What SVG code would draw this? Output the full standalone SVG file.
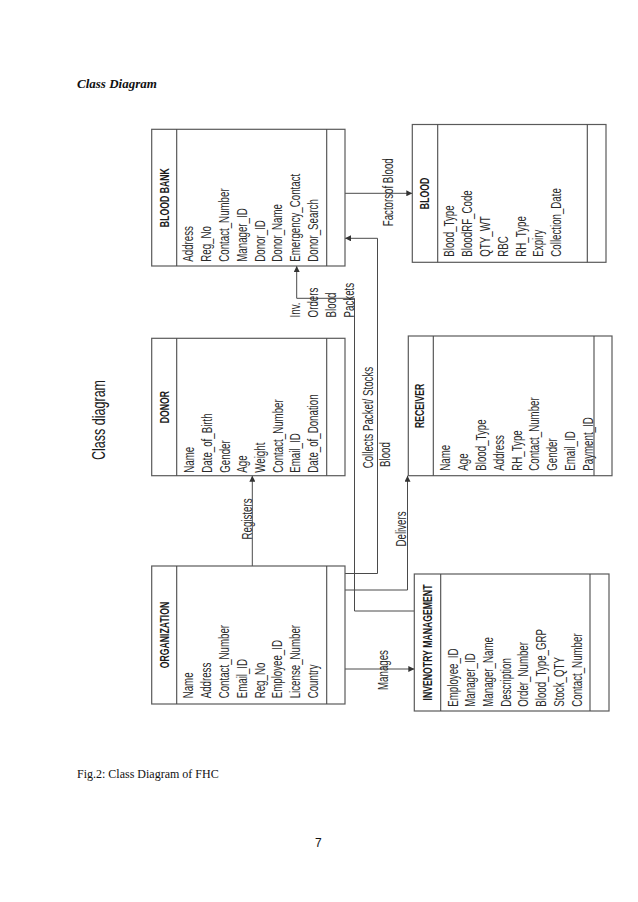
<svg xmlns="http://www.w3.org/2000/svg" width="638" height="902" viewBox="0 0 638 902">
<style>
.page{fill:#ffffff}
.box{fill:#ffffff;stroke:#5a5a5a;stroke-width:1.2}
.div{stroke:#4a4a4a;stroke-width:1.1}
.con{fill:none;stroke:#4a4a4a;stroke-width:1}
.t{font-family:"Liberation Sans",Arial,sans-serif;font-size:14.5px;fill:#2a2a2a}
.h{font-family:"Liberation Sans",Arial,sans-serif;font-size:13px;font-weight:bold;fill:#1a1a1a;text-anchor:middle}
.lbl{font-family:"Liberation Sans",Arial,sans-serif;font-size:14.5px;fill:#2a2a2a}
.big{font-family:"Liberation Sans",Arial,sans-serif;font-size:19px;fill:#1a1a1a}
.pg{font-family:"Liberation Sans",Arial,sans-serif;font-size:12px;fill:#111;text-anchor:middle}
.title{font-family:"Liberation Serif","Times New Roman",serif;font-size:13px;font-weight:bold;font-style:italic;fill:#111}
.cap{font-family:"Liberation Serif","Times New Roman",serif;font-size:12px;fill:#111}
</style>
<defs>
<marker id="arr" markerWidth="6" markerHeight="6" refX="6" refY="3" orient="auto" markerUnits="userSpaceOnUse">
<path d="M0,0 L6,3 L0,6 z" fill="#333"/>
</marker>
</defs>
<rect class="page" x="0" y="0" width="638" height="902"/>

<text class="title" x="77" y="88">Class Diagram</text>

<text class="big" transform="translate(105,460) rotate(-90) scale(0.66,1)">Class diagram</text>

<g id="connectors">
<path class="con" d="M345,193.3 H412.3" marker-end="url(#arr)"/>
<path class="con" d="M345,573.5 H377.5 V238.3 H345" marker-end="url(#arr)"/>
<path class="con" d="M345,590 H407.5 V475.7" marker-end="url(#arr)"/>
<path class="con" d="M414.3,611 H354.5 V298.3 H296.7 V266" marker-end="url(#arr)"/>
<path class="con" d="M252.3,566 V475.7" marker-end="url(#arr)"/>
<path class="con" d="M345,669 H414.3" marker-end="url(#arr)"/>
<text class="lbl" transform="translate(393,192.3) rotate(-90) scale(0.67,1)" text-anchor="middle">Factorsof Blood</text>
<text class="lbl" transform="translate(251.5,519) rotate(-90) scale(0.67,1)" text-anchor="middle">Registers</text>
<text class="lbl" transform="translate(405.5,529) rotate(-90) scale(0.67,1)" text-anchor="middle">Delivers</text>
<text class="lbl" transform="translate(387.5,670) rotate(-90) scale(0.67,1)" text-anchor="middle">Manages</text>
<text class="lbl" transform="translate(373,468.3) rotate(-90) scale(0.67,1)">Collects Packet/ Stocks</text>
<text class="lbl" transform="translate(390,467) rotate(-90) scale(0.67,1)">Blood</text>
<text class="lbl" transform="translate(299.5,317.4) rotate(-90) scale(0.67,1)">Inv.</text>
<text class="lbl" transform="translate(318,317.4) rotate(-90) scale(0.67,1)">Orders</text>
<text class="lbl" transform="translate(335.5,317.4) rotate(-90) scale(0.67,1)">Blood</text>
<text class="lbl" transform="translate(353.5,317.4) rotate(-90) scale(0.67,1)">Packets</text>
</g>

<g id="blood-bank" transform="translate(151.7,266) rotate(-90)">
<rect class="box" x="0" y="0" width="136.7" height="193.3"/>
<line class="div" x1="0" y1="25" x2="136.7" y2="25"/>
<line class="div" x1="0" y1="175" x2="136.7" y2="175"/>
<g transform="scale(0.67,1)">
<text class="h" x="102" y="17">BLOOD BANK</text>
<text class="t" x="6.4" y="41.3">Address</text>
<text class="t" x="6.4" y="59.2">Reg_No</text>
<text class="t" x="6.4" y="77.1">Contact_Number</text>
<text class="t" x="6.4" y="95">Manager_ID</text>
<text class="t" x="6.4" y="112.9">Donor_ID</text>
<text class="t" x="6.4" y="130.8">Donor_Name</text>
<text class="t" x="6.4" y="148.7">Emergency_Contact</text>
<text class="t" x="6.4" y="166.6">Donor_Search</text>
</g>
</g>

<g id="blood" transform="translate(412.3,262.3) rotate(-90)">
<rect class="box" x="0" y="0" width="137.8" height="193.7"/>
<line class="div" x1="0" y1="25.4" x2="137.8" y2="25.4"/>
<line class="div" x1="0" y1="175" x2="137.8" y2="175"/>
<g transform="scale(0.67,1)">
<text class="h" x="102.8" y="16.7">BLOOD</text>
<text class="t" x="8.4" y="41.7">Blood_Type</text>
<text class="t" x="8.4" y="59.6">BloodRF_Code</text>
<text class="t" x="8.4" y="77.5">QTY_WT</text>
<text class="t" x="8.4" y="95.4">RBC</text>
<text class="t" x="8.4" y="113.3">RH_Type</text>
<text class="t" x="8.4" y="131.2">Expiry</text>
<text class="t" x="8.4" y="149.1">Collection_Date</text>
</g>
</g>

<g id="donor" transform="translate(151.7,475.7) rotate(-90)">
<rect class="box" x="0" y="0" width="137.4" height="193.3"/>
<line class="div" x1="0" y1="25" x2="137.4" y2="25"/>
<line class="div" x1="0" y1="175" x2="137.4" y2="175"/>
<g transform="scale(0.67,1)">
<text class="h" x="102.5" y="17.2">DONOR</text>
<text class="t" x="4.5" y="42.5">Name</text>
<text class="t" x="4.5" y="60.2">Date_of_Birth</text>
<text class="t" x="4.5" y="77.9">Gender</text>
<text class="t" x="4.5" y="95.6">Age</text>
<text class="t" x="4.5" y="113.3">Weight</text>
<text class="t" x="4.5" y="131">Contact_Number</text>
<text class="t" x="4.5" y="148.7">Email_ID</text>
<text class="t" x="4.5" y="166.4">Date_of_Donation</text>
</g>
</g>

<g id="receiver" transform="translate(408.3,475.7) rotate(-90)">
<rect class="box" x="0" y="0" width="139.7" height="203.7"/>
<line class="div" x1="0" y1="25" x2="139.7" y2="25"/>
<line class="div" x1="0" y1="185.7" x2="139.7" y2="185.7"/>
<g transform="scale(0.67,1)">
<text class="h" x="104.3" y="16">RECEIVER</text>
<text class="t" x="7.5" y="41.7">Name</text>
<text class="t" x="7.5" y="59.6">Age</text>
<text class="t" x="7.5" y="77.5">Blood_Type</text>
<text class="t" x="7.5" y="95.4">Address</text>
<text class="t" x="7.5" y="113.3">RH_Type</text>
<text class="t" x="7.5" y="131.2">Contact_Number</text>
<text class="t" x="7.5" y="149.1">Gender</text>
<text class="t" x="7.5" y="167">Email_ID</text>
<text class="t" x="7.5" y="184.9">Payment_ID</text>
</g>
</g>

<g id="organization" transform="translate(151.7,704) rotate(-90)">
<rect class="box" x="0" y="0" width="138" height="193.3"/>
<line class="div" x1="0" y1="25" x2="138" y2="25"/>
<line class="div" x1="0" y1="175" x2="138" y2="175"/>
<g transform="scale(0.67,1)">
<text class="h" x="103" y="17">ORGANIZATION</text>
<text class="t" x="8.5" y="41.3">Name</text>
<text class="t" x="8.5" y="59.2">Address</text>
<text class="t" x="8.5" y="77.1">Contact_Number</text>
<text class="t" x="8.5" y="95">Email_ID</text>
<text class="t" x="8.5" y="112.9">Reg_No</text>
<text class="t" x="8.5" y="130.8">Employee_ID</text>
<text class="t" x="8.5" y="148.7">License_Number</text>
<text class="t" x="8.5" y="166.6">Country</text>
</g>
</g>

<g id="inventory-management" transform="translate(414.3,711) rotate(-90)">
<rect class="box" x="0" y="0" width="137" height="194.7"/>
<line class="div" x1="0" y1="26.4" x2="137" y2="26.4"/>
<line class="div" x1="0" y1="175.7" x2="137" y2="175.7"/>
<g transform="scale(0.67,1)">
<text class="h" x="102.2" y="17.7">INVENOTRY MANAGEMENT</text>
<text class="t" x="6.4" y="43.4">Employee_ID</text>
<text class="t" x="6.4" y="61.1">Manager_ID</text>
<text class="t" x="6.4" y="78.8">Manager_Name</text>
<text class="t" x="6.4" y="96.5">Description</text>
<text class="t" x="6.4" y="114.2">Order_Number</text>
<text class="t" x="6.4" y="131.9">Blood_Type_GRP</text>
<text class="t" x="6.4" y="149.6">Stock_QTY</text>
<text class="t" x="6.4" y="167.3">Contact_Number</text>
</g>
</g>

<text class="cap" x="77" y="778.3">Fig.2: Class Diagram of FHC</text>
<text class="pg" x="318.3" y="847.3">7</text>
</svg>
